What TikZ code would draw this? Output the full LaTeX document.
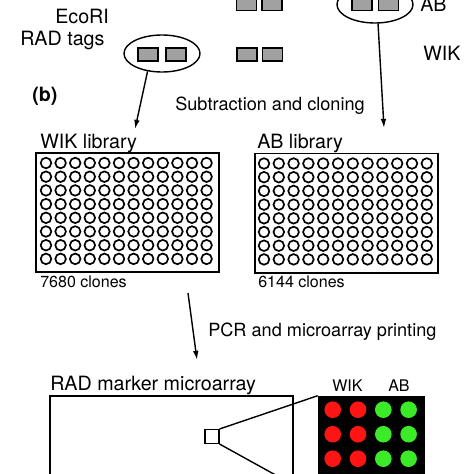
\documentclass[tikz,border=0pt]{standalone}
\usepackage{fontspec}
\setmainfont{TeX Gyre Heros}
\usetikzlibrary{shapes.geometric,arrows.meta}
\definecolor{spotred}{RGB}{255,20,20}
\definecolor{spotgreen}{RGB}{60,235,40}
\tikzset{
  tag/.style={shape=rectangle,draw=black,line width=1pt,fill=black!37,minimum width=0.5cm,minimum height=0.325cm,inner sep=0pt},
  pool/.style={shape=ellipse,draw=black,line width=1pt,minimum width=1.9cm,minimum height=0.925cm,inner sep=0pt},
  lbl/.style={anchor=base west,inner sep=0pt,font=\fontsize{14}{16}\selectfont},
  steplbl/.style={anchor=base west,inner sep=0pt,font=\fontsize{12.9}{15}\selectfont},
  smalllbl/.style={anchor=base west,inner sep=0pt,font=\fontsize{11.4}{13}\selectfont},
  plate/.style={shape=rectangle,draw=black,line width=1.4pt,minimum width=4.575cm,minimum height=2.975cm,inner sep=0pt},
  well/.style={draw=black,line width=1.2pt},
  chip/.style={shape=rectangle,draw=black,line width=1.2pt,minimum width=6.075cm,minimum height=3.75cm,inner sep=0pt},
  spotbox/.style={shape=rectangle,draw=black,line width=1pt,minimum size=0.34cm,inner sep=0pt},
  panel/.style={shape=rectangle,fill=black,minimum width=2.675cm,minimum height=2.55cm,inner sep=0pt},
  arr/.style={-{Latex[length=6.5pt,width=4pt]},line width=1pt},
}
\begin{document}
\begin{tikzpicture}[x=0.025cm,y=-0.025cm]
	\useasboundingbox (0,0) rectangle (474,474);
	\clip (0,0) rectangle (474,474);

	\node[pool] (abpool)  at (375, 4.5)  {};
	\node[pool] (wikpool) at (162, 53.5) {};
	\node[tag] (tagA1) at (246.5, 4)    {};
	\node[tag] (tagA2) at (272, 4)      {};
	\node[tag] (tagB1) at (362, 4)      {};
	\node[tag] (tagB2) at (388.5, 4)    {};
	\node[tag] (tagC1) at (148, 54.5)   {};
	\node[tag] (tagC2) at (176, 54.5)   {};
	\node[tag] (tagD1) at (247, 54.5)   {};
	\node[tag] (tagD2) at (272.5, 54.5) {};

	\node[lbl] (ecori)   at (55, 23.3)  {EcoRI};
	\node[lbl] (radtags) at (20, 45.7)  {RAD tags};
	\node[lbl] (ablab)   at (420, 11.7) {AB};
	\node[lbl] (wiklab)  at (423, 60)   {WIK};
	\node[lbl,font=\fontsize{14}{16}\selectfont\bfseries] (partb) at (32, 101.5) {(b)};
	\node[steplbl] (subtr) at (175, 110) {Subtraction and cloning};

	\node[lbl] (wiklib) at (40, 148.3)  {WIK library};
	\node[lbl] (ablib)  at (257, 148.3) {AB library};
	\node[plate] (wikplate) at (127.5, 212.5) {};
	\node[plate] (abplate)  at (346.5, 213)   {};
	\foreach \i in {0,...,11}
		\foreach \j in {0,...,7} {
			\draw[well] ([shift={(11+14.6*\i,11+13.7*\j)}]wikplate.north west) circle[radius=0.1325cm];
			\draw[well] ([shift={(10+14.8*\i,11+13.7*\j)}]abplate.north west) circle[radius=0.1325cm];
		}
	\node[smalllbl] (wikcount) at (40, 287)    {7680 clones};
	\node[smalllbl] (abcount)  at (258, 287.5) {6144 clones};

	\node[steplbl] (pcr) at (208, 336) {PCR and microarray printing};
	\node[lbl] (chiplab) at (50, 390.7) {RAD marker microarray};
	\node[chip] (chip) at (171.5, 471) {};
	\node[spotbox] (spot) at (212, 436.5) {};
	\node[panel] (panel) at (371.5, 447) {};
	\node[smalllbl] (panelwik) at (332, 391.7) {WIK};
	\node[smalllbl] (panelab)  at (388, 391.7) {AB};
	\foreach \i/\c in {0/spotred,1/spotred,2/spotgreen,3/spotgreen}
		\foreach \j in {0,...,3}
			\fill[\c] ([shift={(15+25.3*\i,14+24.5*\j)}]panel.north west) circle[radius=0.2075cm];

	\coordinate (wikin)  at (135, 129);
	\coordinate (abin)   at (384, 128);
	\coordinate (pcrout) at (188, 293);
	\coordinate (chipin) at (197, 360);

	\path[arr] (wikpool.231) edge (wikin);
	\path[arr] (abpool.279) edge (abin);
	\path[arr] (pcrout) edge (chipin);
	\path[-,line width=1pt] (spot.north east) edge (panel.north west);
	\path[-,line width=1pt] (spot.south east) edge (panel.south west);
\end{tikzpicture}
\end{document}
